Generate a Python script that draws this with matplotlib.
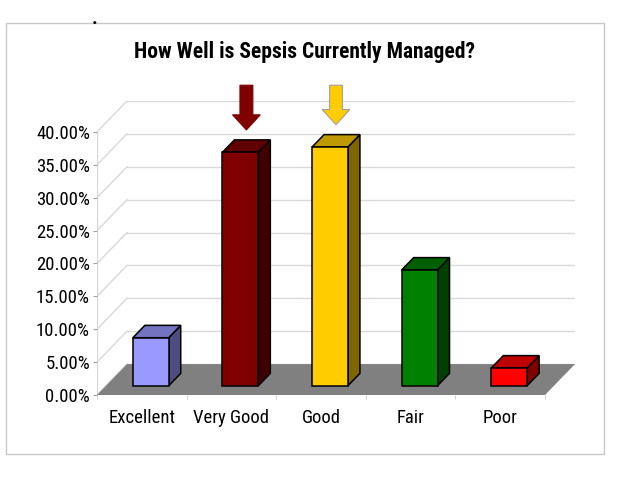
import matplotlib
matplotlib.use("Agg")
import matplotlib.pyplot as plt
from matplotlib.patches import Polygon, Rectangle

# data
categories = ["Excellent", "Very Good", "Good", "Fair", "Poor"]
values = [7.3, 35.5, 36.3, 17.6, 2.7]
front_colors = ["#9999FF", "#800000", "#FFCC00", "#008000", "#FF0000"]
side_colors = ["#4D4D80", "#400000", "#806600", "#004000", "#800000"]
top_colors = ["#7373BF", "#600000", "#BF9900", "#006000", "#BF0000"]
yticks = [0, 5, 10, 15, 20, 25, 30, 35, 40]
title = "How Well is Sepsis Currently Managed?"

# arrows pointing at the two top answers
arrow_bars = [1, 2]
arrow_colors = ["#800000", "#FFCC00"]
arrow_edges = ["#800000", "#A0A0A0"]
arrow_tips = [40.3, 41.1]
arrow_top = 47.1

FONT = ["Roboto Condensed", "PT Sans Narrow", "DejaVu Sans"]
plt.rcParams["font.family"] = FONT

# fake 3d depth (in data units)
DX, DY = 0.335, 4.7
bar_w = 0.40
f_depth, b_depth = 0.3, 0.7

fig = plt.figure(figsize=(6.38, 4.78), dpi=100)
fig.patch.set_facecolor("white")

# chart frame + the stray dot
fig.add_artist(Rectangle((6 / 638, 1 - 454 / 478), 598 / 638, 431 / 478,
                         transform=fig.transFigure, fill=False,
                         edgecolor="#C8C8C8", lw=1))
fig.text(95 / 638, 1 - 24 / 478, ".", fontsize=14, fontweight="bold",
         ha="center", va="baseline", family=FONT)

fig.text(305 / 638, 1 - 52 / 478, title, fontsize=15.5, fontweight="bold",
         ha="center", va="center", family=FONT)

ax = fig.add_axes([97 / 638, 1 - 395 / 478, 478 / 638, 294 / 478])
ax.set_xlim(-0.5, 4.5 + DX)
ax.set_ylim(0, 40 + DY)
for s in ax.spines.values():
    s.set_visible(False)

grid_c = "#D9D9D9"
# walls gridlines
for t in yticks:
    ax.plot([-0.5, -0.5 + DX], [t, t + DY], color=grid_c, lw=1, zorder=1)
    ax.plot([-0.5 + DX, 4.5 + DX], [t + DY, t + DY], color=grid_c, lw=1, zorder=1)
ax.plot([-0.5, -0.5], [0, 40], color=grid_c, lw=1, zorder=1)

# floor
ax.add_patch(Polygon([(-0.5, 0), (4.5, 0), (4.5 + DX, DY), (-0.5 + DX, DY)],
                     closed=True, facecolor="#808080", edgecolor="none", zorder=2))

# bars
d = b_depth - f_depth
xs = [i + f_depth * DX for i in range(len(values))]
ax.bar(xs, values, width=bar_w, bottom=f_depth * DY, color=front_colors,
       edgecolor="black", linewidth=1.1, zorder=4)
for i, v in enumerate(values):
    x0 = xs[i] - bar_w / 2
    x1 = x0 + bar_w
    y0 = f_depth * DY
    y1 = y0 + v
    side = [(x1, y0), (x1 + d * DX, y0 + d * DY), (x1 + d * DX, y1 + d * DY), (x1, y1)]
    top = [(x0, y1), (x1, y1), (x1 + d * DX, y1 + d * DY), (x0 + d * DX, y1 + d * DY)]
    ax.add_patch(Polygon(side, closed=True, facecolor=side_colors[i],
                         edgecolor="black", lw=1.1, zorder=3))
    ax.add_patch(Polygon(top, closed=True, facecolor=top_colors[i],
                         edgecolor="black", lw=1.1, zorder=3))

# arrows
shaft, head, head_len = 0.072, 0.155, 2.3
for b, c, ec, tip in zip(arrow_bars, arrow_colors, arrow_edges, arrow_tips):
    cx = b + 0.5 * DX
    pts = [(cx - shaft, arrow_top), (cx + shaft, arrow_top),
           (cx + shaft, tip + head_len), (cx + head, tip + head_len),
           (cx, tip), (cx - head, tip + head_len), (cx - shaft, tip + head_len)]
    ax.add_patch(Polygon(pts, closed=True, facecolor=c, edgecolor=ec,
                         lw=0.8, zorder=5, clip_on=False))

# axes ticks
ax.set_yticks(yticks)
ax.set_yticklabels([f"{t:.2f}%" for t in yticks], fontsize=13.5)
ax.tick_params(axis="y", length=3, color="#A0A0A0", pad=2)
ax.set_xticks(range(len(categories)))
ax.set_xticklabels(categories, fontsize=13.5)
ax.set_xticks([i + 0.5 for i in range(-1, 5)], minor=True)
ax.tick_params(axis="x", which="major", length=0, pad=10)
ax.tick_params(axis="x", which="minor", length=3, color="#C8C8C8")

fig.savefig("out.png", dpi=100)
